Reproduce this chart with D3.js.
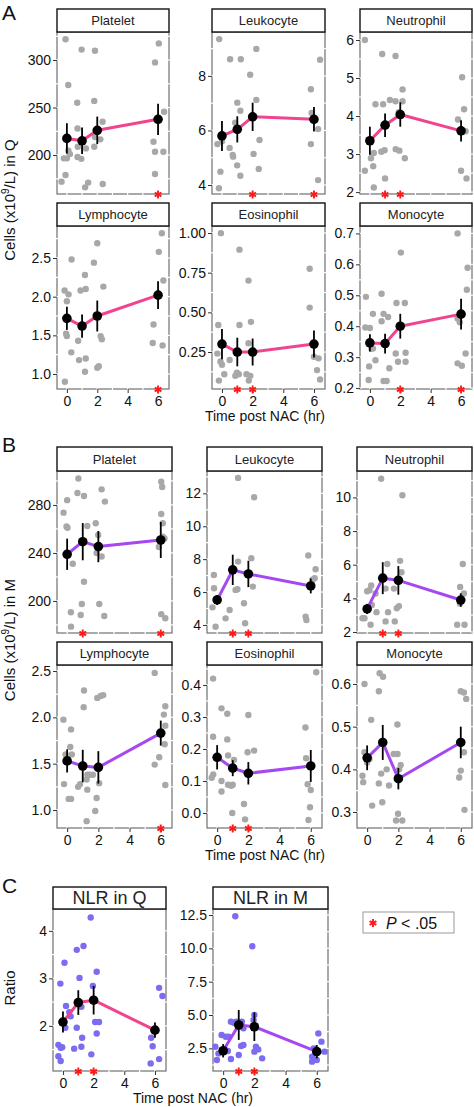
<!DOCTYPE html>
<html>
<head>
<meta charset="utf-8">
<script src="https://cdn.jsdelivr.net/npm/d3@7"></script>
<style>
  body { margin: 0; background: #fff; }
  svg { display: block; font-family: 'Liberation Sans', Arial, sans-serif; }
</style>
</head>
<body>
<div id="chart"></div>
<script>
'use strict';

var TIMES = [0, 1, 2, 6];
var X_TICKS = [0, 2, 4, 6];

// ---- A: cells in Q, individual values are [jittered time, value] ----
var qPlateletPts = [[-0.09,321.8],[0.09,273.7],[0.68,255],[0.97,311],[1.85,309.8],[1.8,257],[-0.35,172],[-0.09,179],
  [-0.2,196.5],[0.0,196.5],[0.1,204.5],[0.2,201],[0.7,228],[0.72,208.8],[0.7,198],[0.95,196],[1.25,207],[1.4,171],
  [1.2,166],[1.8,208.8],[1.85,219],[2.36,169.5],[2.35,235],[2.2,216.5],[6.05,317.5],[5.8,297.5],[6.4,245.6],
  [5.7,214],[5.8,203.5],[6.35,203.5],[5.8,180]];
var qPlateletMean = [217.5, 215, 226, 237.6];
var qPlateletErr = [16, 14, 14.5, 16.5];
var qPlateletSig = [6];
var qPlateletTicks = [200, 250, 300];

var qLeukocytePts = [[-0.18,9.35],[0.53,8.61],[0.0,5.6],[-0.3,5.5],[-0.1,4.49],[-0.2,3.88],[0.73,5.04],[0.5,5.36],
  [0.86,6.28],[1.23,8.61],[1.84,8.04],[2.24,8.99],[1.0,7.02],[1.2,6.72],[0.7,5.1],[0.99,4.72],[1.2,4.34],[2.24,7.12],
  [2.45,5.65],[2.06,5.14],[2.4,4.59],[5.8,7.51],[5.85,6.64],[6.27,6.05],[5.8,5.5],[6.4,8.59],[6.27,4.18]];
var qLeukocyteMean = [5.8, 6.04, 6.5, 6.41];
var qLeukocyteErr = [0.55, 0.48, 0.52, 0.45];
var qLeukocyteSig = [2, 6];
var qLeukocyteTicks = [4, 6, 8];

var qNeutrophilPts = [[-0.33,6.0],[0.81,5.63],[1.69,5.58],[0.37,4.31],[0.87,4.31],[1.32,4.42],[1.69,4.39],[2.15,4.7],
  [2.15,4.39],[1.9,4.1],[-0.33,2.56],[0.22,2.68],[0.07,2.89],[0.26,3.03],[0.75,3.06],[0.97,3.1],[1.0,2.36],[0.26,2.12],
  [1.7,3.13],[1.94,3.09],[2.3,2.89],[6.07,5.02],[6.2,4.18],[5.8,3.91],[6.0,2.56],[6.36,2.36],[6.3,3.6]];
var qNeutrophilMean = [3.35, 3.76, 4.04, 3.61];
var qNeutrophilErr = [0.37, 0.31, 0.32, 0.28];
var qNeutrophilSig = [1, 2];
var qNeutrophilTicks = [2, 3, 4, 5, 6];

var qLymphocytePts = [[0.31,2.48],[-0.15,2.08],[0.11,2.03],[0.0,1.94],[-0.05,1.52],[0.0,1.49],[0.29,1.28],[-0.13,0.9],
  [1.19,2.28],[0.9,2.08],[1.24,2.1],[0.74,1.43],[0.8,1.18],[1.24,1.2],[1.19,1.03],[2.0,2.69],[1.78,2.44],[2.4,2.13],
  [2.22,1.49],[2.3,1.45],[2.1,1.1],[2.0,1.08],[6.25,2.82],[6.05,2.58],[6.35,2.21],[5.7,1.64],[5.65,1.4],[6.3,1.37]];
var qLymphocyteMean = [1.72, 1.62, 1.75, 2.02];
var qLymphocyteErr = [0.15, 0.15, 0.2, 0.18];
var qLymphocyteSig = [6];
var qLymphocyteTicks = [1.0, 1.5, 2.0, 2.5];

var qEosinophilPts = [[-0.07,0.999],[1.14,0.895],[1.73,0.7],[5.72,0.775],[5.72,0.53],[1.14,0.42],[1.89,0.44],[1.73,0.305],
  [6.0,0.22],[6.3,0.21],[6.2,0.136],[6.4,0.077],[-0.24,0.42],[-0.3,0.24],[-0.1,0.19],[0.0,0.17],[0.15,0.11],[-0.2,0.07],
  [0.87,0.1],[0.97,0.12],[1.1,0.11],[1.6,0.11],[1.85,0.1],[1.75,0.07],[0.5,0.2]];
var qEosinophilMean = [0.3, 0.25, 0.25, 0.3];
var qEosinophilErr = [0.095, 0.09, 0.085, 0.085];
var qEosinophilSig = [1, 2];
var qEosinophilTicks = [0.25, 0.5, 0.75, 1.0];

var qMonocytePts = [[-0.26,0.495],[0.2,0.44],[-0.3,0.396],[0.0,0.394],[0.1,0.328],[0.2,0.328],[-0.05,0.27],[-0.08,0.226],
  [0.37,0.29],[0.77,0.505],[0.9,0.44],[1.2,0.43],[0.77,0.416],[0.9,0.223],[1.1,0.223],[1.28,0.264],[1.75,0.475],
  [2.3,0.475],[2.04,0.638],[1.7,0.312],[2.35,0.314],[1.85,0.285],[2.35,0.285],[5.77,0.7],[6.43,0.589],[6.38,0.518],
  [5.77,0.425],[5.92,0.413],[6.3,0.312],[5.77,0.28],[6.05,0.272]];
var qMonocyteMean = [0.346, 0.344, 0.4, 0.439];
var qMonocyteErr = [0.028, 0.032, 0.04, 0.05];
var qMonocyteSig = [2, 6];
var qMonocyteTicks = [0.2, 0.3, 0.4, 0.5, 0.6, 0.7];

// ---- B: cells in M ----
var mPlateletPts = [[0.72,302],[-0.23,273.6],[0.0,284],[-0.04,262],[0.02,261],[0.36,231],[0.66,290],[1.08,287.5],
  [1.29,262.5],[1.83,264.7],[2.21,293],[2.42,282.8],[1.99,255],[1.89,240],[2.21,237],[1.08,216],[6.03,299.4],
  [6.09,295],[6.03,272.5],[6.13,264.7],[6.13,253.6],[6.24,252],[5.88,245],[0.24,190.6],[0.87,188.3],[0.94,197.5],
  [0.25,178.6],[2.06,197.5],[2.38,187.5],[6.03,189],[6.29,185.6]];
var mPlateletMean = [238.9, 249.4, 245.3, 250.8];
var mPlateletErr = [13, 15.5, 13, 15];
var mPlateletSig = [1, 6];
var mPlateletTicks = [200, 240, 280];

var mLeukocytePts = [[1.34,12.94],[2.37,11.76],[-0.21,7.04],[-0.2,6.23],[-0.3,5.07],[0.8,4.91],[0.54,4.4],[1.34,7.85],
  [1.3,6.17],[1.72,5.32],[2.19,8.06],[2.29,6.33],[5.84,8.22],[6.31,7.39],[6.25,6.84],[6.1,6.75],[5.67,4.5],[5.72,4.3],
  [1.79,4.1],[0.0,5.62],[-0.1,3.89],[1.18,6.13]];
var mLeukocyteMean = [5.52, 7.35, 7.1, 6.37];
var mLeukocyteErr = [0.3, 0.92, 0.8, 0.45];
var mLeukocyteSig = [1, 2];
var mLeukocyteTicks = [4, 6, 8, 10, 12];

var mNeutrophilPts = [[0.9,11.11],[2.26,10.13],[1.29,6.04],[2.11,6.23],[2.2,5.55],[0.26,4.77],[0.15,4.48],[0.3,3.6],
  [0.6,3.18],[1.34,3.18],[1.72,4.58],[6.13,6.04],[5.96,4.68],[6.2,4.29],[5.95,3.7],[0.0,4.42],[0.54,4.29],[-0.17,2.82],
  [-0.3,2.82],[0.22,2.43],[1.18,4.58],[1.18,2.63],[1.77,2.63],[1.9,3.41],[2.04,3.54],[5.77,2.43],[6.24,2.43]];
var mNeutrophilMean = [3.37, 5.2, 5.07, 3.9];
var mNeutrophilErr = [0.3, 0.95, 0.85, 0.4];
var mNeutrophilSig = [1, 2];
var mNeutrophilTicks = [2, 4, 6, 8, 10];

var mLymphocytePts = [[-0.24,1.975],[0.25,1.87],[0.2,1.68],[-0.1,1.6],[0.3,1.6],[-0.2,1.28],[0.1,1.12],[0.25,1.12],
  [1.08,2.29],[1.06,2.11],[0.83,1.28],[0.7,1.25],[1.29,1.22],[1.3,1.38],[1.45,1.38],[1.65,1.38],[1.25,1.33],[1.93,2.21],
  [2.15,2.23],[2.31,2.24],[2.05,1.29],[1.89,1.13],[5.61,2.48],[6.29,2.12],[6.2,2.03],[6.29,1.91],[6.25,1.71],[5.9,1.57],
  [5.61,1.49],[6.29,1.27],[1.8,0.99],[1.25,0.88]];
var mLymphocyteMean = [1.53, 1.475, 1.46, 1.83];
var mLymphocyteErr = [0.125, 0.175, 0.175, 0.135];
var mLymphocyteSig = [6];
var mLymphocyteTicks = [1.0, 1.5, 2.0, 2.5];

var mEosinophilPts = [[-0.26,0.42],[0.28,0.327],[-0.26,0.238],[0.65,0.31],[0.65,0.23],[0.7,0.18],[-0.25,0.12],
  [-0.35,0.11],[0.28,0.1],[0.7,0.088],[0.9,0.085],[1.0,0.088],[2.0,0.306],[2.37,0.195],[1.95,0.19],[1.08,0.166],
  [5.66,0.267],[5.7,0.171],[5.8,0.09],[6.0,0.072],[6.35,0.44],[0.28,0.067],[0.97,0.0],[1.72,0.028],[1.79,-0.02],
  [5.95,0.018],[5.85,-0.022]];
var mEosinophilMean = [0.174, 0.14, 0.124, 0.147];
var mEosinophilErr = [0.038, 0.025, 0.035, 0.05];
var mEosinophilSig = [1, 2];
var mEosinophilTicks = [0.0, 0.1, 0.2, 0.3, 0.4];

var mMonocytePts = [[-0.17,0.6],[0.26,0.516],[-0.3,0.385],[-0.25,0.37],[-0.17,0.44],[0.0,0.416],[0.15,0.424],[0.8,0.625],
  [1.02,0.617],[0.75,0.583],[0.9,0.39],[0.75,0.367],[1.25,0.4],[1.7,0.436],[1.95,0.436],[1.94,0.505],[2.15,0.41],
  [2.05,0.4],[1.4,0.362],[6.0,0.583],[6.2,0.58],[6.35,0.565],[6.2,0.44],[6.0,0.397],[5.9,0.381],[0.32,0.315],
  [0.97,0.323],[1.98,0.296],[1.85,0.28],[2.25,0.28],[6.24,0.305]];
var mMonocyteMean = [0.427, 0.463, 0.378, 0.463];
var mMonocyteErr = [0.029, 0.041, 0.025, 0.037];
var mMonocyteSig = [];
var mMonocyteTicks = [0.3, 0.4, 0.5, 0.6];

// ---- C: NLR ----
var qNlrPts = [[0.1,3.33],[-0.17,2.89],[0.2,2.42],[0.41,2.29],[0.15,1.96],[-0.3,1.6],[-0.15,1.54],[-0.05,1.55],
  [-0.3,1.36],[-0.15,1.26],[0.9,3.6],[1.34,3.68],[1.08,3.01],[0.9,1.96],[1.25,1.75],[1.2,1.56],[0.73,1.52],[1.81,4.28],
  [1.95,2.84],[2.2,3.14],[2.1,2.08],[2.35,2.08],[2.2,1.84],[1.85,1.4],[6.27,2.8],[6.49,2.63],[5.75,1.75],[5.85,1.57],
  [5.72,1.21],[6.27,1.3],[0.5,2.2],[1.2,2.4]];
var qNlrMean = [2.08, 2.49, 2.54, 1.91];
var qNlrErr = [0.22, 0.26, 0.3, 0.16];
var qNlrSig = [1, 2];
var qNlrTicks = [2, 3, 4];

var mNlrPts = [[0.78,12.41],[1.87,10.16],[0.17,3.37],[-0.1,3.5],[0.35,3.37],[-0.5,2.62],[-0.3,2.12],[-0.4,1.62],
  [0.3,2.3],[0.5,1.7],[0.68,4.42],[0.5,4.5],[0.85,4.5],[1.2,4.5],[1.3,4.0],[1.15,2.67],[1.3,2.75],[1.0,2.0],[2.0,5.0],
  [1.95,4.62],[2.1,2.62],[2.25,2.42],[2.5,1.75],[2.0,2.25],[6.1,3.62],[6.3,3.0],[5.8,2.5],[6.5,2.25],[5.7,1.87],
  [5.7,1.5],[6.0,1.62]];
var mNlrMean = [2.32, 4.25, 4.12, 2.25];
var mNlrErr = [0.5, 1.12, 1.07, 0.5];
var mNlrSig = [1, 2];
var mNlrTicks = [2.5, 5.0, 7.5, 10.0, 12.5];

var GRAY = '#a8a8a8';
var BLUE = '#7b6cf0';
var PINK = '#f0448e';
var PURPLE = '#a648f2';
var RED = '#ff1a1a';
var FONT = "'Liberation Sans', Arial, sans-serif";

var svg = d3.select('#chart').append('svg')
  .attr('width', 474)
  .attr('height', 1107)
  .style('background', 'white');

var star = d3.symbol().type(d3.symbolAsterisk).size(42);

// rows: strip top, plot top, plot bottom
var rowAT = [9, 32, 194], rowAB = [203, 226, 389];
var rowBT = [447, 471, 633], rowBB = [642, 665, 828];
var colA = [[57, 169], [212, 325], [360, 472]];
var colB = [[57, 172], [207, 322], [357, 472]];

function panel(title, col, row, domain, ticks, fmt, pts, mean, err, sig, ptColor, lineColor, showX, stripSize) {
  return {title: title, x0: col[0], x1: col[1], strip: row[0], top: row[1], bottom: row[2],
    domain: domain, ticks: ticks, fmt: d3.format(fmt), pts: pts, mean: mean, err: err, sig: sig,
    ptColor: ptColor || GRAY, lineColor: lineColor, showX: showX, stripSize: stripSize || 13};
}

var panels = [
  panel('Platelet', colA[0], rowAT, [159, 329.5], qPlateletTicks, 'd', qPlateletPts, qPlateletMean, qPlateletErr, qPlateletSig, null, PINK, false),
  panel('Leukocyte', colA[1], rowAT, [3.67, 9.61], qLeukocyteTicks, 'd', qLeukocytePts, qLeukocyteMean, qLeukocyteErr, qLeukocyteSig, null, PINK, false),
  panel('Neutrophil', colA[2], rowAT, [1.95, 6.21], qNeutrophilTicks, 'd', qNeutrophilPts, qNeutrophilMean, qNeutrophilErr, qNeutrophilSig, null, PINK, false),
  panel('Lymphocyte', colA[0], rowAB, [0.806, 2.914], qLymphocyteTicks, '.1f', qLymphocytePts, qLymphocyteMean, qLymphocyteErr, qLymphocyteSig, null, PINK, true),
  panel('Eosinophil', colA[1], rowAB, [0.017, 1.044], qEosinophilTicks, '.2f', qEosinophilPts, qEosinophilMean, qEosinophilErr, qEosinophilSig, null, PINK, true),
  panel('Monocyte', colA[2], rowAB, [0.197, 0.724], qMonocyteTicks, '.1f', qMonocytePts, qMonocyteMean, qMonocyteErr, qMonocyteSig, null, PINK, true),
  panel('Platelet', colB[0], rowBT, [173.3, 308.3], mPlateletTicks, 'd', mPlateletPts, mPlateletMean, mPlateletErr, mPlateletSig, null, PURPLE, false),
  panel('Leukocyte', colB[1], rowBT, [3.51, 13.36], mLeukocyteTicks, 'd', mLeukocytePts, mLeukocyteMean, mLeukocyteErr, mLeukocyteSig, null, PURPLE, false),
  panel('Neutrophil', colB[2], rowBT, [1.94, 11.57], mNeutrophilTicks, 'd', mNeutrophilPts, mNeutrophilMean, mNeutrophilErr, mNeutrophilSig, null, PURPLE, false),
  panel('Lymphocyte', colB[0], rowBB, [0.806, 2.565], mLymphocyteTicks, '.1f', mLymphocytePts, mLymphocyteMean, mLymphocyteErr, mLymphocyteSig, null, PURPLE, true),
  panel('Eosinophil', colB[1], rowBB, [-0.047, 0.4625], mEosinophilTicks, '.1f', mEosinophilPts, mEosinophilMean, mEosinophilErr, mEosinophilSig, null, PURPLE, true),
  panel('Monocyte', colB[2], rowBB, [0.2625, 0.6445], mMonocyteTicks, '.1f', mMonocytePts, mMonocyteMean, mMonocyteErr, mMonocyteSig, null, PURPLE, true),
  panel('NLR in Q', [53, 166], [887, 909, 1071], [1.05, 4.46], qNlrTicks, 'd', qNlrPts, qNlrMean, qNlrErr, qNlrSig, BLUE, PINK, true, 18),
  panel('NLR in M', [213, 328], [887, 909, 1071], [0.8, 12.95], mNlrTicks, '.1f', mNlrPts, mNlrMean, mNlrErr, mNlrSig, BLUE, PURPLE, true, 18)
];

function styleAxis(a) {
  a.attr('font-size', 14).attr('font-family', FONT);
  a.select('.domain').remove();
  a.selectAll('line').attr('stroke', '#333').attr('stroke-width', 1);
  a.selectAll('text').attr('fill', '#111');
}

function drawPanel(p) {
  var x = d3.scaleLinear().domain([-0.65, 6.72]).range([p.x0, p.x1]);
  var y = d3.scaleLinear().domain(p.domain).range([p.bottom, p.top]);
  var g = svg.append('g');

  g.append('rect')
    .attr('x', p.x0).attr('y', p.top)
    .attr('width', p.x1 - p.x0).attr('height', p.bottom - p.top)
    .attr('fill', 'white').attr('stroke', '#707070').attr('stroke-width', 1.2);

  // white grid lines cut through the frame, like the ggplot theme
  var step = p.ticks[1] - p.ticks[0];
  var yBreaks = d3.range(p.ticks[0] - step, p.ticks[p.ticks.length - 1] + step * 1.01, step / 2)
    .filter(function(v) { return v > p.domain[0] && v < p.domain[1]; });
  g.selectAll('.gx').data(d3.range(0, 7)).enter().append('line')
    .attr('x1', function(d) { return x(d); }).attr('x2', function(d) { return x(d); })
    .attr('y1', p.bottom - 1.5).attr('y2', p.bottom + 1.5)
    .attr('stroke', 'white').attr('stroke-width', 1.2);
  [p.x0, p.x1].forEach(function(xx) {
    g.selectAll(null).data(yBreaks).enter().append('line')
      .attr('x1', xx - 1.5).attr('x2', xx + 1.5)
      .attr('y1', function(d) { return y(d); }).attr('y2', function(d) { return y(d); })
      .attr('stroke', 'white').attr('stroke-width', 1.2);
  });

  // strip
  g.append('rect')
    .attr('x', p.x0).attr('y', p.strip)
    .attr('width', p.x1 - p.x0).attr('height', p.top - p.strip)
    .attr('fill', 'white').attr('stroke', '#111').attr('stroke-width', 1.4);
  g.append('text')
    .attr('x', (p.x0 + p.x1) / 2).attr('y', (p.strip + p.top) / 2)
    .attr('dy', '0.36em')
    .attr('text-anchor', 'middle')
    .attr('font-size', p.stripSize)
    .attr('fill', '#222')
    .text(p.title);

  // axes
  g.append('g')
    .attr('transform', 'translate(' + p.x0 + ',0)')
    .call(d3.axisLeft(y).tickValues(p.ticks).tickFormat(p.fmt).tickSize(4).tickPadding(2))
    .call(styleAxis);
  if (p.showX) {
    g.append('g')
      .attr('transform', 'translate(0,' + p.bottom + ')')
      .call(d3.axisBottom(x).tickValues(X_TICKS).tickFormat(d3.format('d')).tickSize(4).tickPadding(3))
      .call(styleAxis);
  }

  // individual values
  g.selectAll('.pt').data(p.pts).enter().append('circle')
    .attr('cx', function(d) { return x(d[0]); })
    .attr('cy', function(d) { return y(d[1]); })
    .attr('r', 3.2)
    .attr('fill', p.ptColor);

  var means = d3.zip(TIMES, p.mean, p.err);

  g.append('path')
    .datum(means)
    .attr('fill', 'none')
    .attr('stroke', p.lineColor)
    .attr('stroke-width', 3)
    .attr('stroke-linejoin', 'round')
    .attr('d', d3.line().x(function(d) { return x(d[0]); }).y(function(d) { return y(d[1]); }));

  g.selectAll('.err').data(means).enter().append('line')
    .attr('x1', function(d) { return x(d[0]); }).attr('x2', function(d) { return x(d[0]); })
    .attr('y1', function(d) { return y(d[1] - d[2]); })
    .attr('y2', function(d) { return y(d[1] + d[2]); })
    .attr('stroke', '#000').attr('stroke-width', 1.8);

  g.selectAll('.mean').data(means).enter().append('circle')
    .attr('cx', function(d) { return x(d[0]); })
    .attr('cy', function(d) { return y(d[1]); })
    .attr('r', 4.8)
    .attr('fill', '#000');

  // significance stars sit on the bottom border
  g.selectAll('.sig').data(p.sig).enter().append('path')
    .attr('transform', function(d) { return 'translate(' + x(d) + ',' + (p.bottom + 0.5) + ')'; })
    .attr('d', star)
    .attr('fill', 'none')
    .attr('stroke', RED)
    .attr('stroke-width', 1.9);
}

panels.forEach(drawPanel);

// panel letters
[['A', 20], ['B', 452], ['C', 893]].forEach(function(l) {
  svg.append('text').attr('x', 2).attr('y', l[1]).attr('font-size', 21).attr('fill', '#111').text(l[0]);
});

// y titles
function yTitle(cy, suffix) {
  var t = svg.append('text')
    .attr('transform', 'translate(15,' + cy + ') rotate(-90)')
    .attr('text-anchor', 'middle')
    .attr('font-size', 15)
    .attr('fill', '#111');
  t.append('tspan').text('Cells (x10');
  t.append('tspan').attr('font-size', 10).attr('dy', -6).text('9');
  t.append('tspan').attr('dy', 6).text('/L) in ' + suffix);
}
yTitle(200, 'Q');
yTitle(640, 'M');
svg.append('text')
  .attr('transform', 'translate(15,988) rotate(-90)')
  .attr('text-anchor', 'middle')
  .attr('font-size', 15)
  .attr('fill', '#111')
  .text('Ratio');

// x titles
[[265, 421], [265, 860], [193, 1103]].forEach(function(p) {
  svg.append('text')
    .attr('x', p[0]).attr('y', p[1])
    .attr('text-anchor', 'middle')
    .attr('font-size', 14)
    .attr('fill', '#111')
    .text('Time post NAC (hr)');
});

// legend
var leg = svg.append('g');
leg.append('rect')
  .attr('x', 363).attr('y', 912).attr('width', 91).attr('height', 21)
  .attr('fill', 'white').attr('stroke', '#999').attr('stroke-width', 1);
leg.append('path')
  .attr('transform', 'translate(373,923)')
  .attr('d', star)
  .attr('fill', 'none')
  .attr('stroke', RED)
  .attr('stroke-width', 1.9);
var lt = leg.append('text')
  .attr('x', 386).attr('y', 929)
  .attr('font-size', 16)
  .attr('fill', '#111');
lt.append('tspan').attr('font-style', 'italic').text('P');
lt.append('tspan').text(' < .05');
</script>
</body>
</html>
